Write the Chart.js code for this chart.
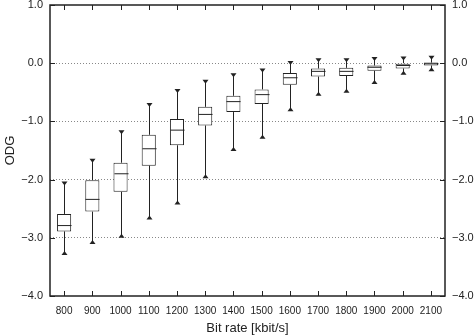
<!DOCTYPE html>
<html>
<head>
<meta charset="utf-8">
<script src="https://cdn.jsdelivr.net/npm/chart.js@4.4.1/dist/chart.umd.min.js"></script>
<style>
  html, body { margin: 0; padding: 0; background: #fff; }
  #wrap { width: 474px; height: 336px; }
</style>
</head>
<body>
<div id="wrap"><canvas id="odgChart"></canvas></div>
<script>
// Box plot statistics per bit rate
const bitRates = ["800", "900", "1000", "1100", "1200", "1300", "1400", "1500", "1600", "1700", "1800", "1900", "2000", "2100"];
const whiskerHigh = [-2.05, -1.66, -1.17, -0.70, -0.46, -0.30, -0.19, -0.11, 0.02, 0.07, 0.07, 0.09, 0.10, 0.11];
const q3 = [-2.59, -2.01, -1.71, -1.23, -0.96, -0.75, -0.56, -0.45, -0.17, -0.09, -0.08, -0.04, 0.00, 0.01];
const median = [-2.79, -2.34, -1.90, -1.47, -1.15, -0.88, -0.66, -0.54, -0.25, -0.14, -0.14, -0.07, -0.04, -0.01];
const q1 = [-2.89, -2.55, -2.21, -1.76, -1.41, -1.07, -0.84, -0.70, -0.37, -0.23, -0.22, -0.13, -0.09, -0.04];
const whiskerLow = [-3.28, -3.09, -2.98, -2.67, -2.41, -1.96, -1.49, -1.28, -0.81, -0.54, -0.49, -0.34, -0.18, -0.12];
const yTicks = [1, 0, -1, -2, -3, -4];

const ink = "#222";
const fontFamily = "'Liberation Sans', Arial, sans-serif";

function fmt(v) {
  return v.toFixed(1).replace("-", "\u2212");
}

// let labels overhang the plot edges without shrinking it
function noEdgePadding(s) {
  s.paddingTop = 0;
  s.paddingBottom = 0;
  s.paddingLeft = 0;
  s.paddingRight = 0;
}

// Whiskers, medians, frame and inward ticks
const boxplotMarks = {
  id: "boxplotMarks",
  afterDatasetsDraw(chart) {
    const { ctx, chartArea, scales } = chart;
    const xs = scales.x;
    const ys = scales.y;
    const meta = chart.getDatasetMeta(0);
    ctx.save();
    ctx.strokeStyle = ink;
    ctx.fillStyle = ink;
    ctx.lineWidth = 1;

    bitRates.forEach((_, i) => {
      const x = Math.round(xs.getPixelForValue(i)) + 0.5;
      const half = meta.data[i].width / 2;
      const yHi = ys.getPixelForValue(whiskerHigh[i]);
      const yQ3 = ys.getPixelForValue(q3[i]);
      const yMed = ys.getPixelForValue(median[i]);
      const yQ1 = ys.getPixelForValue(q1[i]);
      const yLo = ys.getPixelForValue(whiskerLow[i]);

      ctx.beginPath();
      ctx.moveTo(x, yHi);
      ctx.lineTo(x, yQ3);
      ctx.moveTo(x, yQ1);
      ctx.lineTo(x, yLo);
      ctx.moveTo(x - half, yMed);
      ctx.lineTo(x + half, yMed);
      ctx.stroke();

      // caps: down-pointing on top, up-pointing on bottom
      ctx.beginPath();
      ctx.moveTo(x - 3, yHi - 1);
      ctx.lineTo(x + 3, yHi - 1);
      ctx.lineTo(x, yHi + 3);
      ctx.closePath();
      ctx.moveTo(x - 3, yLo + 1);
      ctx.lineTo(x + 3, yLo + 1);
      ctx.lineTo(x, yLo - 3);
      ctx.closePath();
      ctx.fill();
    });

    const { left, right, top, bottom } = chartArea;
    ctx.lineWidth = 1.5;
    ctx.strokeRect(left, top, right - left, bottom - top);

    ctx.lineWidth = 1;
    ctx.beginPath();
    bitRates.forEach((_, i) => {
      const x = Math.round(xs.getPixelForValue(i)) + 0.5;
      ctx.moveTo(x, bottom);
      ctx.lineTo(x, bottom - 5);
      ctx.moveTo(x, top);
      ctx.lineTo(x, top + 5);
    });
    yTicks.forEach(v => {
      const y = Math.round(ys.getPixelForValue(v)) + 0.5;
      ctx.moveTo(left, y);
      ctx.lineTo(left + 5, y);
      ctx.moveTo(right, y);
      ctx.lineTo(right - 5, y);
    });
    ctx.stroke();
    ctx.restore();
  }
};

new Chart(document.getElementById("odgChart"), {
  type: "bar",
  data: {
    labels: bitRates,
    datasets: [{
      data: q1.map((v, i) => [v, q3[i]]),
      backgroundColor: "#fff",
      borderColor: ink,
      borderWidth: 1,
      borderSkipped: false,
      barPercentage: 0.5,
      categoryPercentage: 1
    }]
  },
  options: {
    responsive: true,
    maintainAspectRatio: false,
    animation: false,
    layout: { padding: { top: 5, right: 0, bottom: 0, left: 0 } },
    plugins: {
      legend: { display: false },
      tooltip: { enabled: false }
    },
    scales: {
      x: {
        grid: { display: false, drawTicks: false },
        border: { display: false },
        ticks: {
          color: ink,
          padding: 9,
          autoSkip: false,
          minRotation: 0,
          maxRotation: 0,
          font: { family: fontFamily, size: 10 }
        },
        title: {
          display: true,
          text: "Bit rate [kbit/s]",
          color: ink,
          padding: { top: 3, bottom: 0 },
          font: { family: fontFamily, size: 13 }
        },
        afterFit: s => { s.height = 40; noEdgePadding(s); }
      },
      y: {
        position: "left",
        min: -4,
        max: 1,
        afterBuildTicks: s => { s.ticks = yTicks.map(v => ({ value: v })); },
        grid: {
          drawTicks: false,
          color: c => (c.tick && (c.tick.value === 1 || c.tick.value === -4)) ? "rgba(0,0,0,0)" : "#888",
          lineWidth: 1
        },
        border: { display: false, dash: [1, 2] },
        ticks: {
          color: ink,
          padding: 7,
          font: { family: fontFamily, size: 11 },
          callback: v => fmt(v)
        },
        title: {
          display: true,
          text: "ODG",
          color: ink,
          padding: { top: 3, bottom: 4 },
          font: { family: fontFamily, size: 13 }
        },
        afterFit: s => { s.width = 50; noEdgePadding(s); }
      },
      y2: {
        position: "right",
        min: -4,
        max: 1,
        afterBuildTicks: s => { s.ticks = yTicks.map(v => ({ value: v })); },
        grid: { display: false, drawTicks: false },
        border: { display: false },
        ticks: {
          color: ink,
          padding: 7,
          font: { family: fontFamily, size: 11 },
          callback: v => fmt(v)
        },
        afterFit: s => { s.width = 29; noEdgePadding(s); }
      }
    }
  },
  plugins: [boxplotMarks]
});
</script>
</body>
</html>
